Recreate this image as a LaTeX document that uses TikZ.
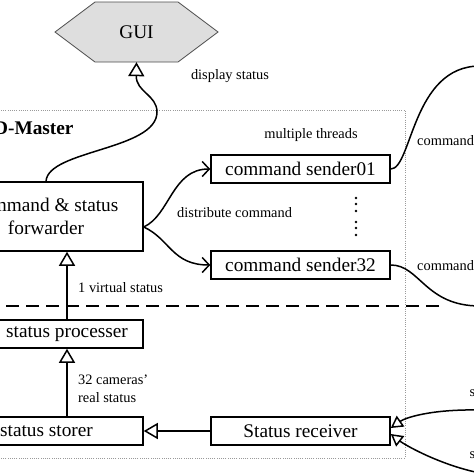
\documentclass[tikz,border=0pt]{standalone}
\usepackage{fontspec}
\setmainfont{Liberation Serif}
\usetikzlibrary{arrows.meta,calc}
\newcommand{\mainsz}{\fontsize{19.3}{23}\selectfont}
\newcommand{\lblsz}{\fontsize{14.4}{18}\selectfont}
\definecolor{guigray}{HTML}{DEDEDE}
\definecolor{dotgray}{HTML}{9A9A9A}
\begin{document}
\begin{tikzpicture}[x=1pt,y=-1pt,
  box/.style={draw, line width=1.5pt, minimum height=28pt, inner sep=0pt, font=\mainsz},
  lbl/.style={font=\lblsz, inner sep=0pt},
  conn/.style={line width=1.5pt},
  tri/.style={conn, -{Triangle[open, length=14pt, width=16pt, line width=1.5pt]}},
  trismall/.style={conn, -{Triangle[open, length=12pt, width=13pt, line width=1.5pt]}},
  barb/.style={conn, -{Straight Barb[length=7pt, width=15pt, line width=1.5pt]}},
  dotbox/.style={dotgray, line width=1pt, dash pattern=on 1pt off 1.2pt},
  sep/.style={line width=1.6pt, dash pattern=on 13pt off 7pt}]
\useasboundingbox (0,0) rectangle (474,474);
\clip (0,0) rectangle (474,474);
% GUI hexagon
\draw[fill=guigray, draw=black!70, line width=0.8pt] (95,2) -- (178,2) -- (218,32) -- (178,62) -- (95,62) -- (55,32) -- cycle;
\node[minimum width=163pt, minimum height=60pt, inner sep=0pt, font=\mainsz] (gui) at (136.5,32) {GUI};
% region box
\draw[dotbox] (-10,110) -- (405,110) -- (405,458) -- (-10,458);
\node[anchor=base west, inner sep=0pt, font=\mainsz\bfseries] (title) at (-6,134) {D-Master};
% separator
\draw[sep] (439,306) -- (-12,306);
% boxes
\node[box, minimum width=194pt, minimum height=69pt, align=center] (fwd) at (46,216.5) {command \& status\\forwarder};
\node[box, minimum width=179pt] (s1) at (300.5,169) {command sender01};
\node[box, minimum width=179pt] (s32) at (300.5,265) {command sender32};
\node[box, minimum width=152pt] (proc) at (67,334) {status processer};
\node[box, minimum width=193pt] (stor) at (46.5,431) {status storer};
\node[box, minimum width=179pt] (recv) at (300.5,431) {Status receiver};
% dots
\foreach \yy [count=\i] in {198,204,211,222,228,235}
  \fill (356,\yy) circle (1.4pt);
% labels
\node[lbl] (l1) at (230,76) {display status};
\node[lbl] (l2) at (311,135) {multiple threads};
\node[lbl, anchor=west] (l3) at (177,213) {distribute command};
\node[lbl, anchor=west] (l4) at (78,288) {1 virtual status};
\node[lbl, anchor=west, align=left] (l5) at (78,389) {32 cameras’\\real status};
\node[lbl, anchor=west] (l6) at (417,141) {command};
\node[lbl, anchor=west] (l7) at (417,266) {command};
\node[lbl, anchor=west] (l8) at (469.5,393) {status};
\node[lbl, anchor=west] (l9) at (469.5,455) {status};
% coordinates off the picture
\coordinate (o1) at (480,66);
\coordinate (o2) at (480,306);
\coordinate (o3) at (480,410);
\coordinate (o4) at (480,473);
\coordinate (fj) at ($(fwd.east)+(0,10.5)$);
% connectors
\draw[tri] (fwd.north) .. controls (48,150) and (157,150) .. (157,112) .. controls (157,95) and (136,92) .. (gui.south);
\draw[barb] (fj) .. controls (170,215) and (172,169) .. (s1.west);
\draw[barb] (fj) .. controls (170,239) and (172,265) .. (s32.west);
\draw[tri] (proc.north) -- (proc.north |- fwd.south);
\draw[tri] (proc.south |- stor.north) -- (proc.south);
\draw[tri] (recv.west) -- (stor.east);
\draw[conn] (s1.east) .. controls (412,169) and (412,66) .. (o1);
\draw[conn] (s32.east) .. controls (420,265) and (425,306) .. (o2);
\draw[trismall] (o3) .. controls (430,409) and (405,418) .. ($(recv.east)+(0,-3)$);
\draw[trismall] (o4) .. controls (440,465) and (405,445) .. ($(recv.east)+(0,3)$);
\end{tikzpicture}
\end{document}
